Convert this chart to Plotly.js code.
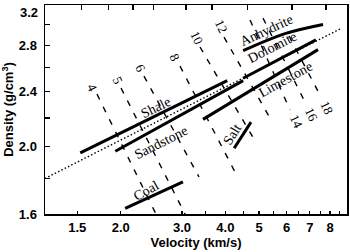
<!DOCTYPE html>
<html><head><meta charset="utf-8">
<script src="https://cdn.plot.ly/plotly-3.0.1.min.js"></script>
<style>html,body{margin:0;padding:0;background:#fff}#c{width:350px;height:252px}</style>
</head><body><div id="c"></div>
<script>
// ---- data ----
const shaleV = [1.53, 4.05],  shaleRho = [1.96, 2.49];
const sandV = [1.93, 4.50],   sandRho = [1.97, 2.49];
const limeV = [3.45, 7.39],   limeRho = [2.19, 2.76];
const doloV = [4.50, 7.29],   doloRho = [2.51, 2.85];
const anhyV = [4.50, 5.94, 7.64], anhyRho = [2.75, 2.91, 3.00];
const saltV = [4.24, 4.74],   saltRho = [1.99, 2.17];
const coalV = [2.06, 3.02],   coalRho = [1.63, 1.78];
const gardnerV = [1.21, 8.66], gardnerRho = [1.80, 2.965];

const lithNames = ['Shale','Sandstone','Limestone','Dolomite','Anhydrite','Salt','Coal'];
const lithLabelV = [2.526, 2.611, 5.95, 5.45, 5.236, 4.18, 2.380];
const lithLabelRho = [2.281, 2.031, 2.50, 2.775, 2.945, 2.085, 1.727];

const impLabels = ['4','5','6','8','10','12','14','16','18'];
const impTopV   = [1.709, 2.004, 2.333, 2.962, 3.381, 3.965, 4.710, 5.133, 6.098];
const impTopRho = [2.381, 2.430, 2.528, 2.613, 2.784, 2.877, 3.044, 3.064, 2.887];
const impBotV   = [2.526, 3.062, 3.359, 4.264, 4.836, 5.377, 6.138, 6.780, 7.485];
const impBotRho = [1.600, 1.600, 1.809, 1.839, 2.051, 2.199, 2.259, 2.319, 2.374];
const impLabelV   = [1.664, 1.965, 2.273, 2.866, 3.315, 3.886, 6.388, 7.055, 7.845];
const impLabelRho = [2.430, 2.495, 2.597, 2.693, 2.877, 2.975, 2.171, 2.222, 2.281];

const xTickVals = [1.5, 2, 3, 4, 5, 6, 7, 8];
const xTickText = ['1.5','2.0','3.0','4.0','5','6','7','8'];
const xMinorVals = [3.5, 4.5, 5.5, 6.5, 7.5, 8.5];
const topTickVals = [1.54, 1.84, 2.17, 2.49, 3.08, 3.66, 4.62, 6.22, 7.79];
const yTickVals = [1.6, 2.0, 2.4, 2.8];
const yTickText = ['1.6','2.0','2.4','2.8'];
const yMinorVals = [1.8, 2.2, 2.6, 3.0];
const yTopLabel = 3.2;

// ---- styles ----
const K = '#000';
const sans = {family:'Liberation Sans, Arial, sans-serif', size:13, color:K, weight:'bold'};
const serif = {family:'Liberation Serif, Times New Roman, serif', size:14, color:K};
const numFont = {family:'Liberation Serif, Times New Roman, serif', size:13, color:K};
const lithAngles = [-26, -27, -29, -27, -25, -58, -29];

const traces = [];
for (let i = 0; i < impLabels.length; i++) {
  traces.push({x:[impTopV[i], impBotV[i]], y:[impTopRho[i], impBotRho[i]], mode:'lines',
    line:{color:K, width:1.4, dash:'6px,8px'}, hoverinfo:'skip'});
}
traces.push({x:gardnerV, y:gardnerRho, mode:'lines', line:{color:K, width:1.4, dash:'1.5px,2.2px'}, hoverinfo:'skip'});
[[shaleV,shaleRho],[sandV,sandRho],[limeV,limeRho],[doloV,doloRho],[anhyV,anhyRho],[saltV,saltRho],[coalV,coalRho]]
  .forEach(([vx, vy]) => traces.push({x:vx, y:vy, mode:'lines', line:{color:K, width:3, shape:'spline'}, hoverinfo:'skip'}));
traces.push({x:[2,3], y:[2,2], xaxis:'x2', mode:'markers', marker:{opacity:0}, hoverinfo:'skip'});

const ann = [];
lithNames.forEach((t, i) => ann.push({x:Math.log10(lithLabelV[i]), y:Math.log10(lithLabelRho[i]), xref:'x', yref:'y',
  text:t, showarrow:false, textangle:lithAngles[i], font:serif, xanchor:'center', yanchor:'middle'}));
impLabels.forEach((t, i) => ann.push({x:Math.log10(impLabelV[i]), y:Math.log10(impLabelRho[i]), xref:'x', yref:'y',
  text:t, showarrow:false, textangle:65, font:numFont, xanchor:'center', yanchor:'middle'}));
ann.push({x:0, xref:'paper', y:Math.log10(yTopLabel), yref:'y', text:yTopLabel.toFixed(1), showarrow:false,
  xanchor:'right', yanchor:'top', xshift:-5, yshift:2, font:sans});

const xr = [0.0832, 0.952];
const layout = {
  width:350, height:252, margin:{l:45, r:3, t:5, b:38},
  paper_bgcolor:'#fff', plot_bgcolor:'#fff', showlegend:false,
  xaxis:{type:'log', range:xr, tickmode:'array', tickvals:xTickVals, ticktext:xTickText,
    ticks:'inside', ticklen:3, tickwidth:1.2, tickcolor:K, showline:true, linecolor:K, linewidth:1.5,
    minor:{tickvals:xMinorVals, ticks:'inside', ticklen:3, tickwidth:1.2, tickcolor:K, showgrid:false},
    mirror:true, showgrid:false, zeroline:false, tickfont:sans, ticklabelstandoff:1,
    title:{text:'Velocity (km/s)', font:sans, standoff:4}},
  xaxis2:{type:'log', range:xr, overlaying:'x', side:'top', anchor:'y', tickmode:'array', tickvals:topTickVals,
    ticks:'inside', ticklen:5, tickwidth:1.2, tickcolor:K, showticklabels:false, showline:false,
    showgrid:false, zeroline:false},
  yaxis:{type:'log', range:[Math.log10(1.6), Math.log10(3.2)], tickmode:'array', tickvals:yTickVals, ticktext:yTickText,
    ticks:'inside', ticklen:5, tickwidth:1.2, tickcolor:K, showline:true, linecolor:K, linewidth:1.5,
    minor:{tickvals:yMinorVals, ticks:'inside', ticklen:5, tickwidth:1.2, tickcolor:K, showgrid:false},
    mirror:true, showgrid:false, zeroline:false, tickfont:sans, ticklabelstandoff:4,
    title:{text:'Density (g/cm<sup>3</sup>)', font:sans, standoff:3}},
  annotations:ann
};
Plotly.newPlot('c', traces, layout, {staticPlot:true, displayModeBar:false});
</script></body></html>
